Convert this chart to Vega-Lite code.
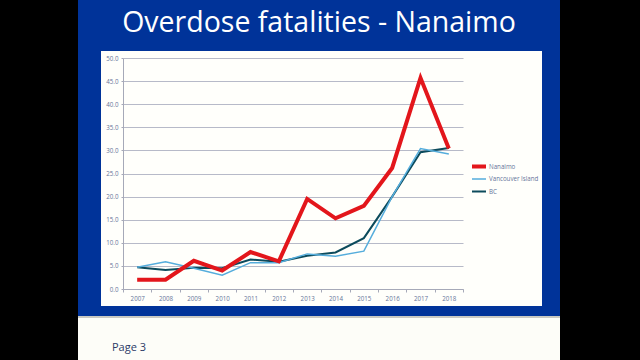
{
  "$schema": "https://vega.github.io/schema/vega-lite/v6.json",
  "background": "#000000",
  "padding": {"left": 78, "right": 80, "top": 0, "bottom": 0},
  "autosize": {"type": "pad"},
  "spacing": 0,
  "config": {
    "view": {"stroke": null},
    "concat": {"spacing": 0},
    "font": "Open Sans"
  },
  "vconcat": [
    {
      "width": 482,
      "height": 51,
      "view": {"fill": "#003399", "stroke": null},
      "data": {"values": [{"t": "Overdose fatalities - Nanaimo"}]},
      "mark": {"type": "text", "color": "#ffffff", "fontSize": 28.5, "font": "Open Sans", "dy": -3},
      "encoding": {"text": {"field": "t"}}
    },
    {
      "spacing": 0,
      "hconcat": [
        {
          "width": 23,
          "height": 255,
          "view": {"fill": "#003399", "stroke": null},
          "data": {"values": []},
          "mark": "rect"
        },
        {
          "width": 441,
          "height": 255,
          "view": {"fill": "#fffffb", "stroke": null},
          "data": {
            "values": [
              {"year": "2007", "region": "BC", "value": 4.7},
              {"year": "2008", "region": "BC", "value": 4.1},
              {"year": "2009", "region": "BC", "value": 4.6},
              {"year": "2010", "region": "BC", "value": 4.5},
              {"year": "2011", "region": "BC", "value": 6.4},
              {"year": "2012", "region": "BC", "value": 5.9},
              {"year": "2013", "region": "BC", "value": 7.2},
              {"year": "2014", "region": "BC", "value": 7.9},
              {"year": "2015", "region": "BC", "value": 11.0},
              {"year": "2016", "region": "BC", "value": 20.0},
              {"year": "2017", "region": "BC", "value": 29.6},
              {"year": "2018", "region": "BC", "value": 30.5},
              {"year": "2007", "region": "Vancouver Island", "value": 4.7},
              {"year": "2008", "region": "Vancouver Island", "value": 5.9},
              {"year": "2009", "region": "Vancouver Island", "value": 4.5},
              {"year": "2010", "region": "Vancouver Island", "value": 3.0},
              {"year": "2011", "region": "Vancouver Island", "value": 5.7},
              {"year": "2012", "region": "Vancouver Island", "value": 5.7},
              {"year": "2013", "region": "Vancouver Island", "value": 7.6},
              {"year": "2014", "region": "Vancouver Island", "value": 7.1},
              {"year": "2015", "region": "Vancouver Island", "value": 8.2},
              {"year": "2016", "region": "Vancouver Island", "value": 20.0},
              {"year": "2017", "region": "Vancouver Island", "value": 30.4},
              {"year": "2018", "region": "Vancouver Island", "value": 29.2},
              {"year": "2007", "region": "Nanaimo", "value": 2.0},
              {"year": "2008", "region": "Nanaimo", "value": 2.0},
              {"year": "2009", "region": "Nanaimo", "value": 6.1},
              {"year": "2010", "region": "Nanaimo", "value": 4.0},
              {"year": "2011", "region": "Nanaimo", "value": 8.0},
              {"year": "2012", "region": "Nanaimo", "value": 6.0},
              {"year": "2013", "region": "Nanaimo", "value": 19.5},
              {"year": "2014", "region": "Nanaimo", "value": 15.3},
              {"year": "2015", "region": "Nanaimo", "value": 18.0},
              {"year": "2016", "region": "Nanaimo", "value": 26.2},
              {"year": "2017", "region": "Nanaimo", "value": 45.7},
              {"year": "2018", "region": "Nanaimo", "value": 30.4}
            ]
          },
          "mark": {"type": "line", "strokeJoin": "miter"},
          "encoding": {
            "x": {
              "field": "year",
              "type": "ordinal",
              "bandPosition": 0.5,
              "scale": {"type": "band", "range": [22, 362], "paddingInner": 0, "paddingOuter": 0},
              "axis": {
                "title": null,
                "offset": -17,
                "labelAngle": 0,
                "tickBand": "extent",
                "grid": false,
                "domainColor": "#a6a9b8",
                "tickColor": "#a6a9b8",
                "tickSize": 3,
                "labelFontSize": 6.2,
                "labelColor": "#66759a",
                "labelPadding": 3
              }
            },
            "y": {
              "field": "value",
              "type": "quantitative",
              "scale": {"domain": [0, 50], "range": [238, 7], "nice": false, "zero": true},
              "axis": {
                "title": null,
                "offset": -22,
                "values": [0, 5, 10, 15, 20, 25, 30, 35, 40, 45, 50],
                "format": ".1f",
                "grid": true,
                "gridColor": "#b7bac8",
                "gridWidth": 1,
                "domainColor": "#a6a9b8",
                "tickColor": "#a6a9b8",
                "tickSize": 2,
                "labelFontSize": 6.2,
                "labelColor": "#66759a",
                "labelPadding": 3
              }
            },
            "color": {
              "field": "region",
              "type": "nominal",
              "scale": {"domain": ["Nanaimo", "Vancouver Island", "BC"], "range": ["#e3161b", "#55addc", "#0c4b5c"]},
              "legend": {
                "orient": "none",
                "legendX": 392,
                "legendY": 161,
                "title": null,
                "symbolType": "stroke",
                "symbolSize": 196,
                "clipHeight": 11,
                "rowPadding": 1.5,
                "labelOffset": 1,
                "labelFontSize": 6.2,
                "labelColor": "#66759a"
              }
            },
            "strokeWidth": {
              "field": "region",
              "type": "nominal",
              "scale": {"type": "ordinal", "domain": ["Nanaimo", "Vancouver Island", "BC"], "range": [4, 1.5, 2]},
              "legend": {
                "orient": "none",
                "legendX": 392,
                "legendY": 161,
                "title": null,
                "symbolType": "stroke",
                "symbolSize": 196,
                "clipHeight": 11,
                "rowPadding": 1.5,
                "labelOffset": 1,
                "labelFontSize": 6.2,
                "labelColor": "#66759a"
              }
            }
          }
        },
        {
          "width": 18,
          "height": 255,
          "view": {"fill": "#003399", "stroke": null},
          "data": {"values": []},
          "mark": "rect"
        }
      ]
    },
    {
      "width": 482,
      "height": 10,
      "view": {"fill": "#003399", "stroke": null},
      "data": {"values": []},
      "mark": "rect"
    },
    {
      "width": 482,
      "height": 2,
      "view": {"fill": "#c9c9c2", "stroke": null},
      "data": {"values": []},
      "mark": "rect"
    },
    {
      "width": 482,
      "height": 42,
      "view": {"fill": "#fdfdf8", "stroke": null},
      "data": {"values": [{"t": "Page 3"}]},
      "mark": {"type": "text", "color": "#2c3a66", "fontSize": 11, "font": "Open Sans", "align": "left", "dx": -207, "dy": 9},
      "encoding": {"text": {"field": "t"}}
    }
  ]
}
